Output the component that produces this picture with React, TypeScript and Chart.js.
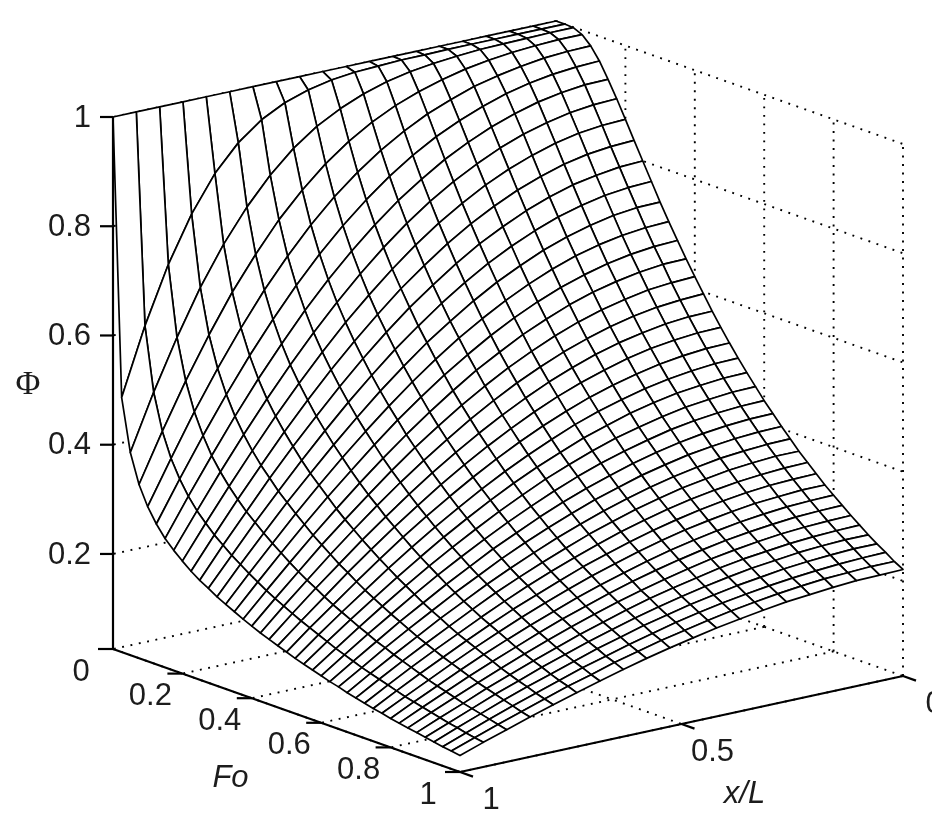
import React, { useEffect, useRef } from "react";
import { Chart, registerables } from "chart.js";

Chart.register(...registerables);

// ---------------- data ----------------
const FO_VALUES = [
  0, 0.025, 0.05, 0.075, 0.1, 0.125, 0.15, 0.175, 0.2, 0.225, 0.25, 0.275, 0.3, 0.325,
  0.35, 0.375, 0.4, 0.425, 0.45, 0.475, 0.5, 0.525, 0.55, 0.575, 0.6, 0.625, 0.65,
  0.675, 0.7, 0.725, 0.75, 0.775, 0.8, 0.825, 0.85, 0.875, 0.9, 0.925, 0.95, 0.975, 1,
];

const XL_VALUES = [
  0, 0.0526, 0.1053, 0.1579, 0.2105, 0.2632, 0.3158, 0.3684, 0.4211, 0.4737, 0.5263,
  0.5789, 0.6316, 0.6842, 0.7368, 0.7895, 0.8421, 0.8947, 0.9474, 1,
];

// one row per Fo value, one column per x/L value
const PHI_VALUES = [
  [1, 1, 1, 1, 1, 1, 1, 1, 1, 1, 1, 1, 1, 1, 1, 1, 1, 1, 1, 1],
  [1.0, 1.0, 1.0, 1.0, 1.0, 1.0, 0.999, 0.999, 0.997, 0.995, 0.99, 0.981, 0.967, 0.945, 0.912, 0.865, 0.8, 0.717, 0.614, 0.492],
  [0.999, 0.999, 0.998, 0.997, 0.996, 0.993, 0.989, 0.983, 0.974, 0.961, 0.943, 0.92, 0.889, 0.849, 0.8, 0.741, 0.671, 0.589, 0.498, 0.397],
  [0.992, 0.992, 0.99, 0.987, 0.982, 0.975, 0.965, 0.952, 0.936, 0.915, 0.889, 0.857, 0.818, 0.773, 0.719, 0.659, 0.59, 0.515, 0.432, 0.344],
  [0.977, 0.976, 0.973, 0.967, 0.959, 0.949, 0.934, 0.917, 0.895, 0.869, 0.838, 0.802, 0.76, 0.712, 0.659, 0.599, 0.534, 0.464, 0.388, 0.309],
  [0.955, 0.953, 0.949, 0.942, 0.932, 0.918, 0.901, 0.881, 0.856, 0.827, 0.793, 0.755, 0.712, 0.664, 0.611, 0.554, 0.492, 0.426, 0.356, 0.283],
  [0.927, 0.926, 0.921, 0.913, 0.901, 0.886, 0.867, 0.845, 0.818, 0.788, 0.753, 0.714, 0.671, 0.624, 0.572, 0.517, 0.458, 0.395, 0.33, 0.262],
  [0.897, 0.895, 0.89, 0.881, 0.869, 0.853, 0.833, 0.81, 0.783, 0.752, 0.717, 0.678, 0.635, 0.589, 0.539, 0.486, 0.43, 0.371, 0.309, 0.246],
  [0.865, 0.863, 0.858, 0.849, 0.836, 0.82, 0.8, 0.776, 0.749, 0.718, 0.683, 0.645, 0.604, 0.559, 0.511, 0.46, 0.406, 0.35, 0.292, 0.232],
  [0.832, 0.83, 0.825, 0.816, 0.803, 0.787, 0.767, 0.744, 0.717, 0.686, 0.653, 0.615, 0.575, 0.532, 0.486, 0.437, 0.385, 0.332, 0.276, 0.219],
  [0.8, 0.798, 0.792, 0.784, 0.771, 0.755, 0.735, 0.713, 0.686, 0.656, 0.624, 0.588, 0.549, 0.507, 0.462, 0.416, 0.367, 0.315, 0.263, 0.208],
  [0.768, 0.766, 0.761, 0.752, 0.74, 0.724, 0.705, 0.683, 0.657, 0.628, 0.596, 0.562, 0.524, 0.484, 0.441, 0.396, 0.349, 0.301, 0.25, 0.199],
  [0.736, 0.735, 0.73, 0.721, 0.709, 0.694, 0.675, 0.654, 0.629, 0.601, 0.571, 0.537, 0.501, 0.462, 0.421, 0.378, 0.334, 0.287, 0.239, 0.189],
  [0.706, 0.704, 0.699, 0.691, 0.68, 0.665, 0.647, 0.626, 0.602, 0.576, 0.546, 0.514, 0.479, 0.442, 0.403, 0.362, 0.319, 0.274, 0.228, 0.181],
  [0.677, 0.675, 0.67, 0.662, 0.651, 0.637, 0.62, 0.6, 0.577, 0.551, 0.523, 0.492, 0.459, 0.423, 0.385, 0.346, 0.305, 0.262, 0.218, 0.173],
  [0.649, 0.648, 0.643, 0.635, 0.625, 0.611, 0.594, 0.575, 0.552, 0.528, 0.5, 0.47, 0.438, 0.404, 0.368, 0.33, 0.291, 0.25, 0.208, 0.165],
  [0.622, 0.62, 0.616, 0.608, 0.598, 0.585, 0.569, 0.55, 0.529, 0.505, 0.479, 0.45, 0.42, 0.387, 0.352, 0.316, 0.279, 0.239, 0.199, 0.158],
  [0.596, 0.594, 0.59, 0.583, 0.573, 0.56, 0.545, 0.527, 0.507, 0.484, 0.459, 0.431, 0.402, 0.371, 0.338, 0.303, 0.267, 0.229, 0.191, 0.151],
  [0.57, 0.569, 0.565, 0.558, 0.549, 0.537, 0.522, 0.505, 0.485, 0.463, 0.439, 0.413, 0.385, 0.355, 0.323, 0.29, 0.255, 0.22, 0.183, 0.145],
  [0.546, 0.545, 0.541, 0.535, 0.526, 0.514, 0.5, 0.484, 0.465, 0.444, 0.421, 0.396, 0.369, 0.34, 0.31, 0.278, 0.245, 0.21, 0.175, 0.139],
  [0.523, 0.522, 0.518, 0.512, 0.503, 0.492, 0.479, 0.463, 0.445, 0.425, 0.403, 0.379, 0.353, 0.326, 0.297, 0.266, 0.234, 0.201, 0.168, 0.133],
  [0.501, 0.5, 0.496, 0.49, 0.482, 0.471, 0.459, 0.444, 0.426, 0.407, 0.386, 0.363, 0.338, 0.312, 0.284, 0.255, 0.224, 0.193, 0.161, 0.127],
  [0.48, 0.479, 0.475, 0.47, 0.462, 0.452, 0.439, 0.425, 0.408, 0.39, 0.37, 0.348, 0.324, 0.299, 0.272, 0.244, 0.215, 0.185, 0.154, 0.122],
  [0.46, 0.459, 0.455, 0.45, 0.442, 0.432, 0.421, 0.407, 0.391, 0.374, 0.354, 0.333, 0.31, 0.286, 0.261, 0.234, 0.206, 0.177, 0.147, 0.117],
  [0.44, 0.439, 0.436, 0.431, 0.424, 0.414, 0.403, 0.39, 0.375, 0.358, 0.339, 0.319, 0.297, 0.274, 0.25, 0.224, 0.197, 0.17, 0.141, 0.112],
  [0.422, 0.421, 0.418, 0.413, 0.406, 0.397, 0.386, 0.373, 0.359, 0.343, 0.325, 0.305, 0.285, 0.262, 0.239, 0.214, 0.189, 0.162, 0.135, 0.107],
  [0.404, 0.403, 0.4, 0.395, 0.389, 0.38, 0.37, 0.357, 0.344, 0.328, 0.311, 0.293, 0.273, 0.251, 0.229, 0.205, 0.181, 0.156, 0.129, 0.103],
  [0.387, 0.386, 0.383, 0.379, 0.372, 0.364, 0.354, 0.342, 0.329, 0.314, 0.298, 0.28, 0.261, 0.241, 0.219, 0.197, 0.173, 0.149, 0.124, 0.098],
  [0.37, 0.37, 0.367, 0.363, 0.356, 0.349, 0.339, 0.328, 0.315, 0.301, 0.285, 0.268, 0.25, 0.231, 0.21, 0.188, 0.166, 0.143, 0.119, 0.094],
  [0.355, 0.354, 0.351, 0.347, 0.341, 0.334, 0.325, 0.314, 0.302, 0.288, 0.273, 0.257, 0.24, 0.221, 0.201, 0.18, 0.159, 0.137, 0.114, 0.09],
  [0.34, 0.339, 0.337, 0.333, 0.327, 0.32, 0.311, 0.301, 0.289, 0.276, 0.262, 0.246, 0.229, 0.212, 0.193, 0.173, 0.152, 0.131, 0.109, 0.086],
  [0.325, 0.325, 0.322, 0.319, 0.313, 0.306, 0.298, 0.288, 0.277, 0.264, 0.251, 0.236, 0.22, 0.203, 0.185, 0.166, 0.146, 0.125, 0.104, 0.083],
  [0.312, 0.311, 0.309, 0.305, 0.3, 0.293, 0.285, 0.276, 0.265, 0.253, 0.24, 0.226, 0.21, 0.194, 0.177, 0.159, 0.14, 0.12, 0.1, 0.079],
  [0.299, 0.298, 0.296, 0.292, 0.287, 0.281, 0.273, 0.264, 0.254, 0.243, 0.23, 0.216, 0.202, 0.186, 0.169, 0.152, 0.134, 0.115, 0.096, 0.076],
  [0.286, 0.285, 0.283, 0.28, 0.275, 0.269, 0.262, 0.253, 0.243, 0.232, 0.22, 0.207, 0.193, 0.178, 0.162, 0.145, 0.128, 0.11, 0.092, 0.073],
  [0.274, 0.273, 0.271, 0.268, 0.263, 0.258, 0.251, 0.242, 0.233, 0.223, 0.211, 0.198, 0.185, 0.17, 0.155, 0.139, 0.123, 0.105, 0.088, 0.07],
  [0.262, 0.262, 0.26, 0.257, 0.252, 0.247, 0.24, 0.232, 0.223, 0.213, 0.202, 0.19, 0.177, 0.163, 0.149, 0.133, 0.118, 0.101, 0.084, 0.067],
  [0.251, 0.251, 0.249, 0.246, 0.242, 0.236, 0.23, 0.222, 0.214, 0.204, 0.194, 0.182, 0.17, 0.156, 0.142, 0.128, 0.113, 0.097, 0.081, 0.064],
  [0.241, 0.24, 0.238, 0.235, 0.231, 0.226, 0.22, 0.213, 0.205, 0.196, 0.185, 0.174, 0.162, 0.15, 0.136, 0.122, 0.108, 0.093, 0.077, 0.061],
  [0.23, 0.23, 0.228, 0.226, 0.222, 0.217, 0.211, 0.204, 0.196, 0.187, 0.178, 0.167, 0.156, 0.143, 0.131, 0.117, 0.103, 0.089, 0.074, 0.059],
  [0.221, 0.22, 0.219, 0.216, 0.212, 0.208, 0.202, 0.195, 0.188, 0.179, 0.17, 0.16, 0.149, 0.137, 0.125, 0.112, 0.099, 0.085, 0.071, 0.056],
];

const FO_TICKS = [0, 0.2, 0.4, 0.6, 0.8, 1];
const FO_TICK_LABELS = ["0", "0.2", "0.4", "0.6", "0.8", "1"];
const XL_TICKS = [0, 0.5, 1];
const XL_TICK_LABELS = ["0", "0.5", "1"];
const PHI_TICKS = [0.2, 0.4, 0.6, 0.8, 1];
const PHI_TICK_LABELS = ["0.2", "0.4", "0.6", "0.8", "1"];

const FO_RANGE = [0, 1];
const XL_RANGE = [0, 1];
const PHI_RANGE = [0.026, 1];

// ---------------- view / layout ----------------
const W = 932;
const H = 826;
// orthographic view of the axis box (pixels per full axis range)
const VIEW = { ox: 556, oy: 553, foX: 347, foY: 123, xlX: -443, xlY: 96, phiY: 532 };

const TICK_FONT = '31px "Liberation Sans", Arial, Helvetica, sans-serif';
const TITLE_FONT = 'italic 31px "Liberation Sans", Arial, Helvetica, sans-serif';
const PHI_FONT = '34px "Liberation Serif", "DejaVu Serif", "Times New Roman", serif';
const TEXT_COLOR = "#1c1c1c";
const MESH_WIDTH = 1.7;

function norm(v: number, r: number[]) {
  return (v - r[0]) / (r[1] - r[0]);
}

function project(fo: number, xl: number, phi: number) {
  const f = norm(fo, FO_RANGE);
  const s = norm(xl, XL_RANGE);
  const p = norm(phi, PHI_RANGE);
  return {
    x: VIEW.ox + VIEW.foX * f + VIEW.xlX * s,
    y: VIEW.oy + VIEW.foY * f + VIEW.xlY * s - VIEW.phiY * p,
  };
}

function closeness(fo: number, xl: number) {
  return VIEW.foY * norm(fo, FO_RANGE) + VIEW.xlY * norm(xl, XL_RANGE);
}

function buildDatasets() {
  const sets: any[] = [];
  const pMin = PHI_RANGE[0];
  const pMax = PHI_RANGE[1];
  const grid = (a: number[], b: number[]) => ({
    data: [project(a[0], a[1], a[2]), project(b[0], b[1], b[2])],
    showLine: true,
    pointRadius: 0,
    borderColor: "#000",
    borderWidth: 1.9,
    borderDash: [1.9, 6.6],
    fill: false,
    order: 1e7,
  });
  // floor
  FO_TICKS.forEach((f) => sets.push(grid([f, XL_RANGE[0], pMin], [f, XL_RANGE[1], pMin])));
  XL_TICKS.forEach((x) => sets.push(grid([FO_RANGE[0], x, pMin], [FO_RANGE[1], x, pMin])));
  // back wall Fo = min
  XL_TICKS.forEach((x) => sets.push(grid([FO_RANGE[0], x, pMin], [FO_RANGE[0], x, pMax])));
  PHI_TICKS.forEach((p) => sets.push(grid([FO_RANGE[0], XL_RANGE[0], p], [FO_RANGE[0], XL_RANGE[1], p])));
  // back wall x/L = 0
  FO_TICKS.forEach((f) => sets.push(grid([f, XL_RANGE[0], pMin], [f, XL_RANGE[0], pMax])));
  PHI_TICKS.forEach((p) => sets.push(grid([FO_RANGE[0], XL_RANGE[0], p], [FO_RANGE[1], XL_RANGE[0], p])));

  // mesh cells, painted far to near
  for (let i = 0; i < FO_VALUES.length - 1; i++) {
    for (let j = 0; j < XL_VALUES.length - 1; j++) {
      const corners = [
        [i, j],
        [i + 1, j],
        [i + 1, j + 1],
        [i, j + 1],
        [i, j],
      ];
      const pts = corners.map(([a, b]) => project(FO_VALUES[a], XL_VALUES[b], PHI_VALUES[a][b]));
      const c = closeness((FO_VALUES[i] + FO_VALUES[i + 1]) / 2, (XL_VALUES[j] + XL_VALUES[j + 1]) / 2);
      sets.push({
        data: pts,
        showLine: true,
        pointRadius: 0,
        borderColor: "#000",
        borderWidth: MESH_WIDTH,
        borderJoinStyle: "round",
        backgroundColor: "#fff",
        fill: "shape",
        order: -c,
      });
    }
  }
  return sets;
}

const axesPlugin = {
  id: "axes3d",
  afterDatasetsDraw(chart: any) {
    const ctx = chart.ctx;
    const sx = chart.scales.x;
    const sy = chart.scales.y;
    const P = (fo: number, xl: number, phi: number) => {
      const q = project(fo, xl, phi);
      return { x: sx.getPixelForValue(q.x), y: sy.getPixelForValue(q.y) };
    };
    const line = (a: any, b: any) => {
      ctx.beginPath();
      ctx.moveTo(a.x, a.y);
      ctx.lineTo(b.x, b.y);
      ctx.stroke();
    };
    const pMin = PHI_RANGE[0];
    ctx.save();
    ctx.strokeStyle = "#000";
    ctx.lineWidth = 2.2;
    ctx.lineCap = "butt";

    // Phi axis at (Fo min, x/L max)
    const zA = P(FO_RANGE[0], XL_RANGE[1], pMin);
    const zB = P(FO_RANGE[0], XL_RANGE[1], PHI_RANGE[1]);
    line(zA, zB);
    ctx.fillStyle = TEXT_COLOR;
    ctx.font = TICK_FONT;
    ctx.textAlign = "right";
    ctx.textBaseline = "middle";
    PHI_TICKS.forEach((p, k) => {
      const t = P(FO_RANGE[0], XL_RANGE[1], p);
      line(t, { x: t.x - 13, y: t.y });
      ctx.fillText(PHI_TICK_LABELS[k], t.x - 22, t.y + 1);
    });

    // Fo axis (x/L max edge)
    const fA = P(FO_RANGE[0], XL_RANGE[1], pMin);
    const fB = P(FO_RANGE[1], XL_RANGE[1], pMin);
    line(fA, fB);
    ctx.textAlign = "center";
    FO_TICKS.forEach((f, k) => {
      const t = P(f, XL_RANGE[1], pMin);
      line(t, { x: t.x - 15, y: t.y });
      ctx.fillText(FO_TICK_LABELS[k], t.x - 32, t.y + 23);
    });

    // x/L axis (Fo max edge)
    const xA = P(FO_RANGE[1], XL_RANGE[1], pMin);
    const xB = P(FO_RANGE[1], XL_RANGE[0], pMin);
    line(xA, xB);
    XL_TICKS.forEach((x, k) => {
      const t = P(FO_RANGE[1], x, pMin);
      line(t, { x: t.x + 13, y: t.y + 4.6 });
      ctx.fillText(XL_TICK_LABELS[k], t.x + 31, t.y + 28);
    });

    // titles
    ctx.font = PHI_FONT;
    ctx.fillText("\u03A6", 28, (zA.y + zB.y) / 2 + 2);
    ctx.font = TITLE_FONT;
    ctx.fillText("Fo", (fA.x + fB.x) / 2 - 56, (fA.y + fB.y) / 2 + 68);
    ctx.fillText("x/L", (xA.x + xB.x) / 2 + 63, (xA.y + xB.y) / 2 + 70);
    ctx.restore();
  },
};

export default function App() {
  const ref = useRef<HTMLCanvasElement | null>(null);
  useEffect(() => {
    if (!ref.current) return;
    const chart = new Chart(ref.current, {
      type: "scatter",
      data: { datasets: buildDatasets() },
      options: {
        animation: false,
        responsive: false,
        events: [],
        parsing: false,
        normalized: true,
        layout: { padding: 0 },
        scales: {
          x: { type: "linear", min: 0, max: W, display: false },
          y: { type: "linear", min: 0, max: H, reverse: true, display: false },
        },
        plugins: {
          legend: { display: false },
          tooltip: { enabled: false },
          filler: { drawTime: "beforeDatasetDraw" },
        },
      } as any,
      plugins: [axesPlugin],
    });
    return () => chart.destroy();
  }, []);
  return (
    <div style={{ position: "fixed", left: 0, top: 0, width: W, height: H, background: "#fff" }}>
      <canvas ref={ref} width={W} height={H} style={{ display: "block", width: W, height: H }} />
    </div>
  );
}
